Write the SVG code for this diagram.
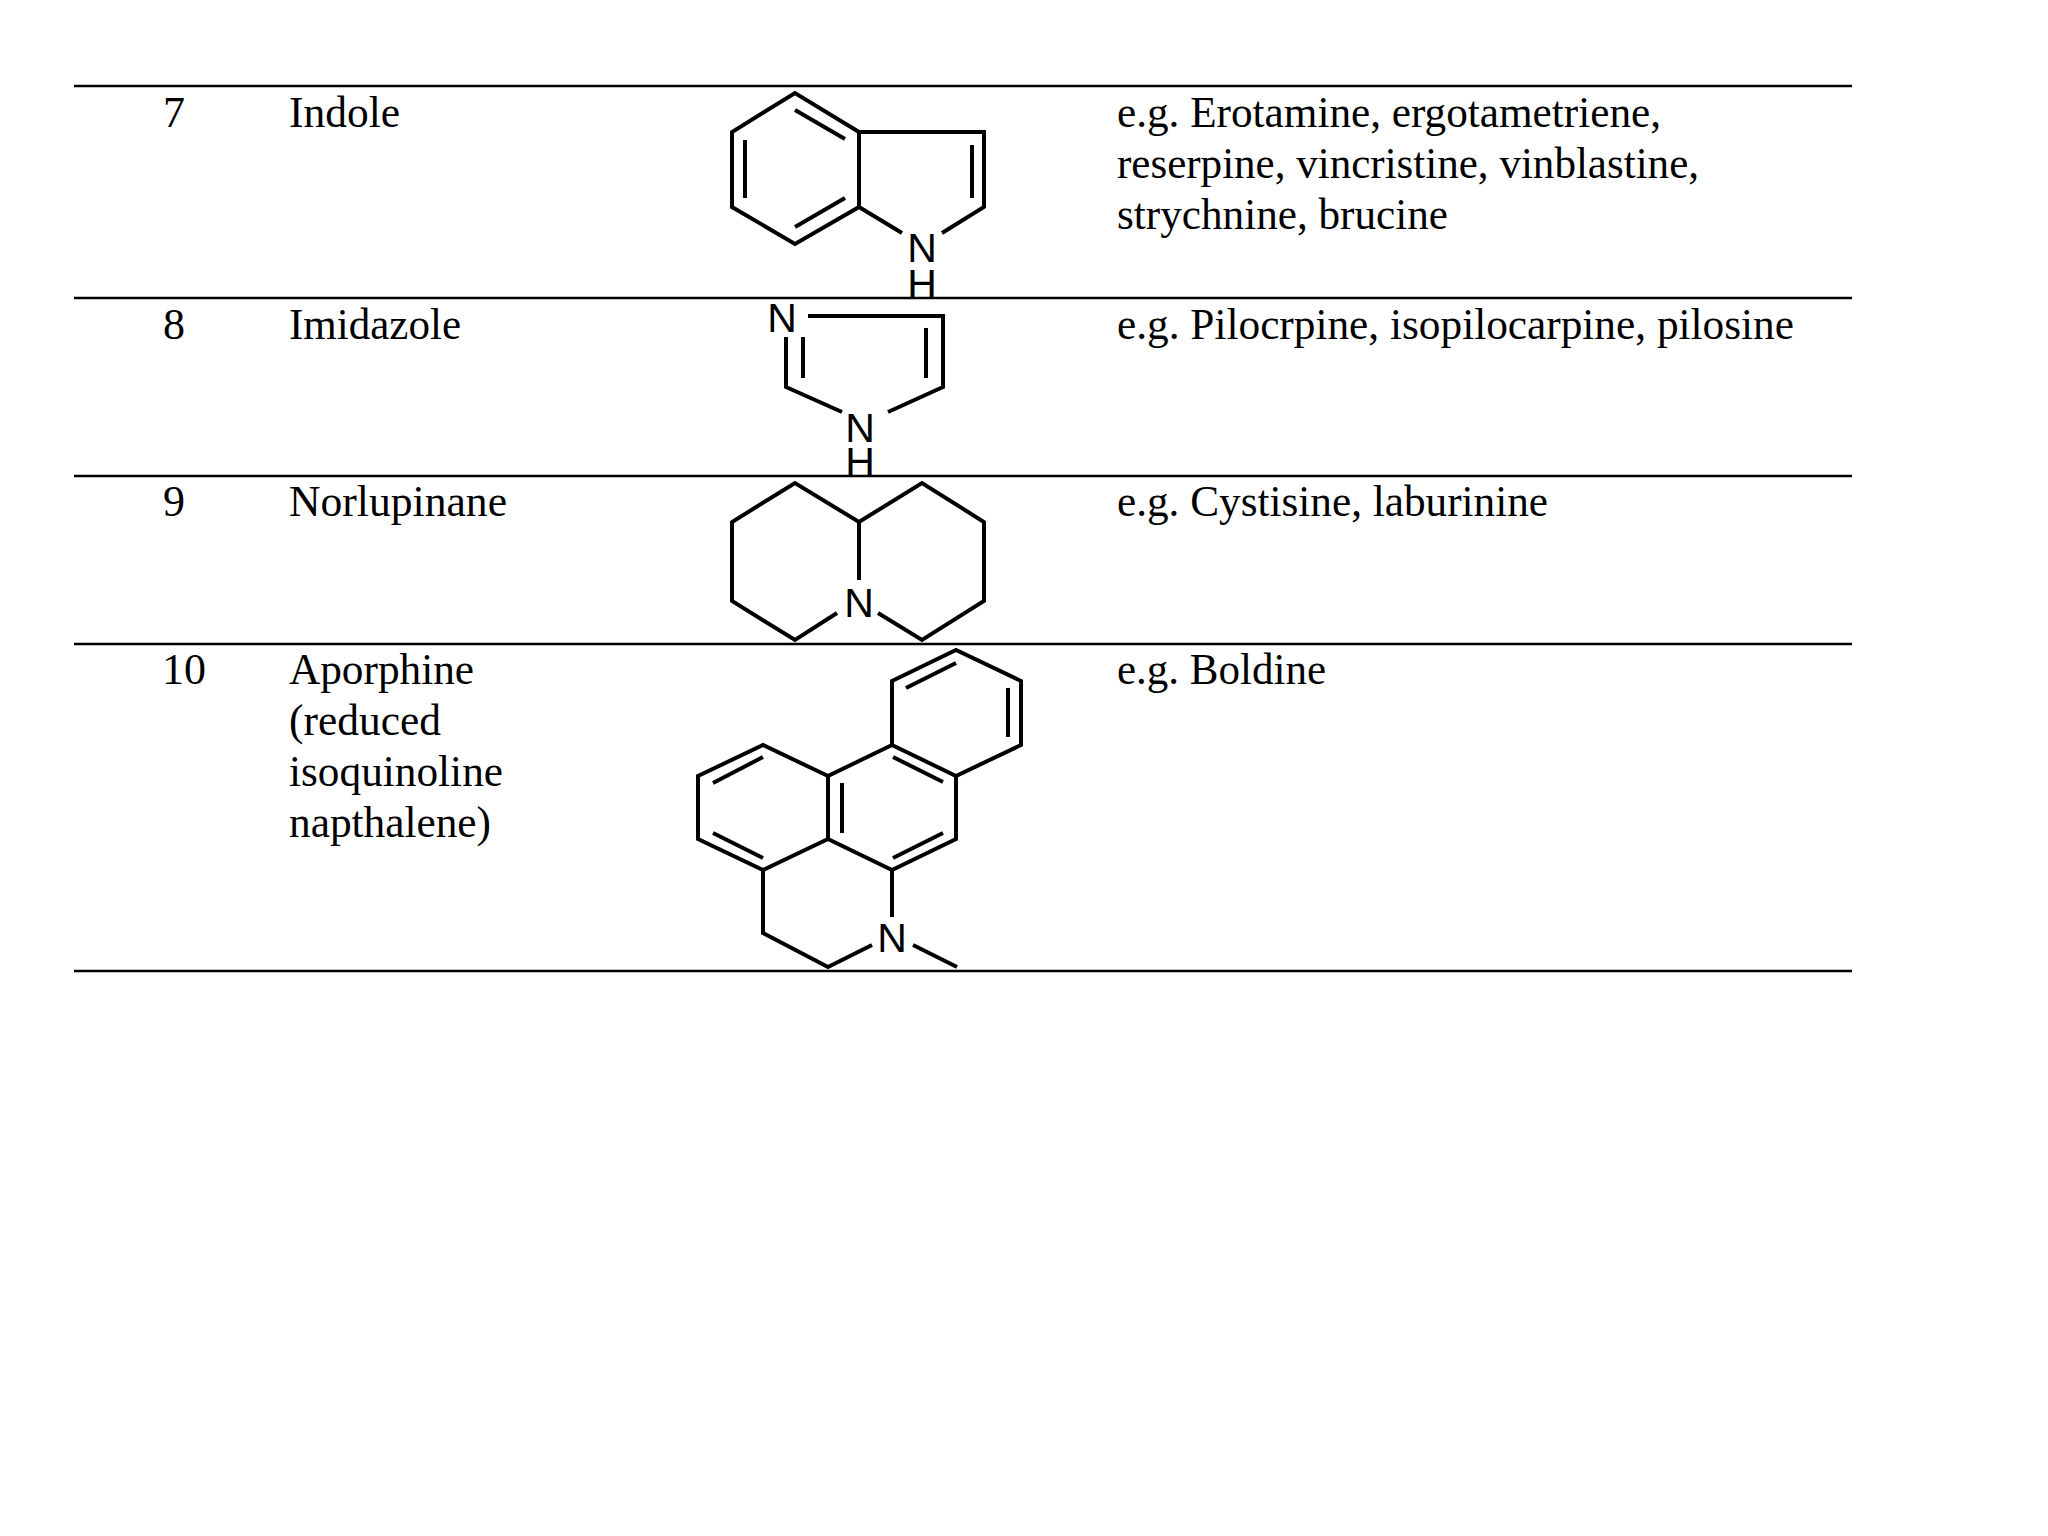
<svg xmlns="http://www.w3.org/2000/svg" width="2048" height="1536" viewBox="0 0 2048 1536">
<style>
.t{font-family:"Liberation Sans",Arial,sans-serif;font-size:44px;fill:#000}
.t{font-family:"Liberation Serif","Times New Roman",serif}
.a{font-family:"Liberation Sans",Arial,sans-serif;font-size:41px;fill:#000;text-anchor:middle}
.rule{stroke:#000;stroke-width:2.5}
.b{stroke:#000;stroke-width:4;fill:none;stroke-linejoin:miter;stroke-linecap:butt}
</style>
<rect width="2048" height="1536" fill="#fff"/>
<g id="rules">
<line class="rule" x1="74" y1="86" x2="1852" y2="86"/>
<line class="rule" x1="74" y1="298" x2="1852" y2="298"/>
<line class="rule" x1="74" y1="476" x2="1852" y2="476"/>
<line class="rule" x1="74" y1="644" x2="1852" y2="644"/>
<line class="rule" x1="74" y1="971" x2="1852" y2="971"/>
</g>
<g id="row7">
<text class="t" x="163" y="127">7</text>
<text class="t" x="289" y="127" textLength="111" lengthAdjust="spacingAndGlyphs">Indole</text>
<text class="t" x="1117" y="127" textLength="544" lengthAdjust="spacingAndGlyphs">e.g. Erotamine, ergotametriene,</text>
<text class="t" x="1117" y="178" textLength="582" lengthAdjust="spacingAndGlyphs">reserpine, vincristine, vinblastine,</text>
<text class="t" x="1117" y="229" textLength="331" lengthAdjust="spacingAndGlyphs">strychnine, brucine</text>
<g id="indole">
<path class="b" d="M859,132 L795,93 L732,132 L732,207 L795,244 L859,207 Z"/>
<path class="b" d="M859,132 L984,132 L984,207 L942,233 M859,207 L902,233"/>
<path class="b" d="M795,110 L845,139 M745,140 L745,198 M795,227 L845,198 M972,145 L972,198"/>
<text class="a" x="922" y="262">N</text>
<text class="a" x="922" y="298">H</text>
</g>
</g>
<g id="row8">
<text class="t" x="163" y="339">8</text>
<text class="t" x="289" y="339" textLength="172" lengthAdjust="spacingAndGlyphs">Imidazole</text>
<text class="t" x="1117" y="339" textLength="677" lengthAdjust="spacingAndGlyphs">e.g. Pilocrpine, isopilocarpine, pilosine</text>
<g id="imidazole">
<path class="b" d="M808,316 L943,316 L943,387 L888,412 M786,337 L786,387 L842,412"/>
<path class="b" d="M803,337 L803,378 M926,328 L926,378"/>
<text class="a" x="782" y="332">N</text>
<text class="a" x="860" y="442">N</text>
<text class="a" x="860" y="476">H</text>
</g>
</g>
<g id="row9">
<text class="t" x="163" y="516">9</text>
<text class="t" x="289" y="516" textLength="218" lengthAdjust="spacingAndGlyphs">Norlupinane</text>
<text class="t" x="1117" y="516" textLength="431" lengthAdjust="spacingAndGlyphs">e.g. Cystisine, laburinine</text>
<g id="norlupinane">
<path class="b" d="M837,613 L795,640 L732,601 L732,522 L795,483 L859,522 L922,483 L984,522 L984,601 L922,640 L878,613 M859,522 L859,580"/>
<text class="a" x="859" y="617">N</text>
</g>
</g>
<g id="row10">
<text class="t" x="162" y="684">10</text>
<text class="t" x="289" y="684" textLength="185" lengthAdjust="spacingAndGlyphs">Aporphine</text>
<text class="t" x="289" y="735" textLength="152" lengthAdjust="spacingAndGlyphs">(reduced</text>
<text class="t" x="289" y="786" textLength="214" lengthAdjust="spacingAndGlyphs">isoquinoline</text>
<text class="t" x="289" y="837" textLength="202" lengthAdjust="spacingAndGlyphs">napthalene)</text>
<text class="t" x="1117" y="684" textLength="209" lengthAdjust="spacingAndGlyphs">e.g. Boldine</text>
<g id="aporphine">
<path class="b" d="M892,681 L956,650 L1021,681 L1021,745 L956,776 L892,745 Z"/>
<path class="b" d="M892,745 L828,776 L828,839 L892,870 L956,839 L956,776"/>
<path class="b" d="M828,776 L763,745 L698,776 L698,839 L763,870 L828,839"/>
<path class="b" d="M763,870 L763,933 L828,967 L872,945 M892,870 L892,917 M913,945 L957,967"/>
<path class="b" d="M906,688 L956,663 M1008,688 L1008,737 M893,757 L943,782 M842,783 L842,833 M893,858 L943,833 M713,783 L763,757 M713,833 L763,858"/>
<text class="a" x="892" y="952">N</text>
</g>
</g>
</svg>
